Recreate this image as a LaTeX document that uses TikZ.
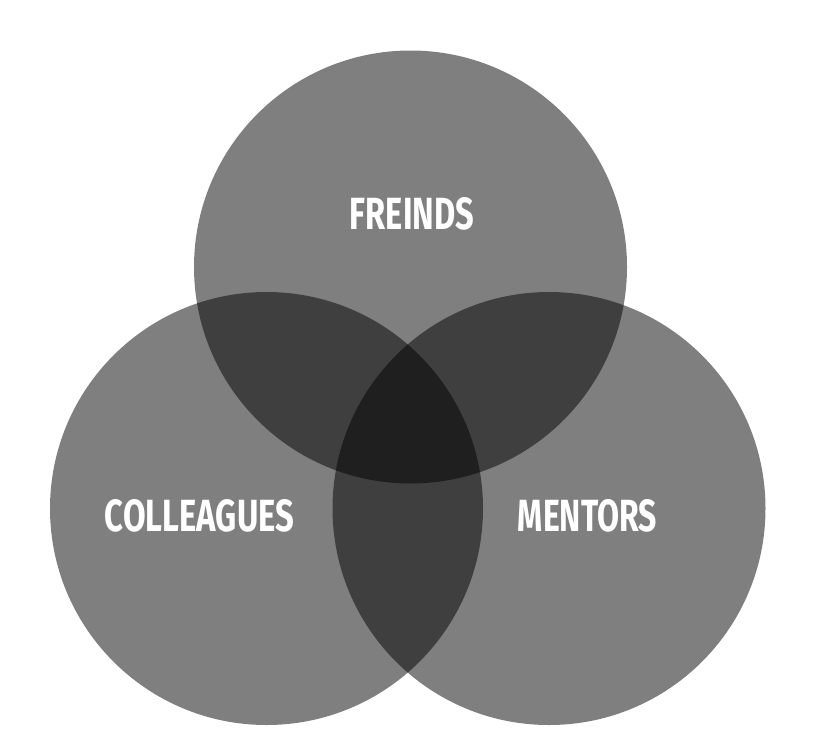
\documentclass[tikz,border=0pt]{standalone}
\usepackage{fontspec}
\setmainfont{Fira Sans}
\begin{document}
\begin{tikzpicture}[x=1pt,y=-1pt,
  venn/.style={circle,fill=black,fill opacity=0.5,minimum size=433pt,inner sep=0pt},
  lbl/.style={text=white,font=\bfseries,inner sep=0pt}]
\useasboundingbox (0,0) rectangle (821,753);
\node[venn] (friends) at (410.5,267) {};
\node[venn] (colleagues) at (266.5,508.5) {};
\node[venn] (mentors) at (549,508.5) {};
\node[lbl] (tf) at (412,214) {\resizebox{124pt}{32pt}{FREINDS}};
\node[lbl] (tc) at (199.5,516) {\resizebox{189pt}{32pt}{COLLEAGUES}};
\node[lbl] (tm) at (587.5,516) {\resizebox{139pt}{32pt}{MENTORS}};
\end{tikzpicture}
\end{document}
